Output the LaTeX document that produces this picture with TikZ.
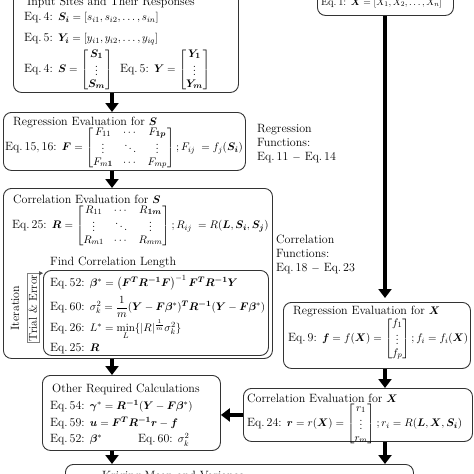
\documentclass[tikz,border=0pt]{standalone}
\usepackage{amsmath,bm}
\usetikzlibrary{arrows.meta,positioning,calc}
\DeclareMathSizes{12}{11}{8}{6}
\renewcommand{\arraystretch}{0.82}

\begin{document}
\begin{tikzpicture}[x=1pt,y=-1pt,>={Triangle[width=13pt,length=9pt]},font=\fontsize{12}{14}\selectfont]
  \tikzstyle{box}=[draw=black!80,line width=0.9pt,rounded corners=8pt,anchor=north west,inner sep=0pt]
  \tikzstyle{txt}=[anchor=west,inner sep=0pt,align=left]
  \tikzstyle{flow}=[->,line width=3.5pt]

  \useasboundingbox (0,0) rectangle (474,474);
  \clip (0,0) rectangle (474,474);

  % left column boxes
  \node[box,minimum width=225pt,minimum height=102pt] (input) at (13,-10) {};
  \node[box,minimum width=242pt,minimum height=58pt]  (regS)  at (3,112) {};
  \node[box,minimum width=269pt,minimum height=170pt] (corS)  at (3,188) {};
  \node[box,minimum width=225pt,minimum height=85pt]  (inner) at (43,270) {};
  \node[box,minimum width=178pt,minimum height=75pt]  (other) at (42,375) {};
  \node[box,minimum width=348pt,minimum height=30pt]  (krig)  at (65,464) {};
  % right column boxes
  \node[box,minimum width=136pt,minimum height=25pt]  (eqX)   at (317,-10) {};
  \node[box,minimum width=187pt,minimum height=66pt]  (regX)  at (283,302) {};
  \node[box,minimum width=229pt,minimum height=53pt]  (corX)  at (243,388) {};

  % input sites
  \node[txt] (inTitle) at (27,2) {Input Sites and Their Responses};
  \node[txt] (eqSi) at (24,18) {Eq.\,4: $\bm{S_i}=[s_{i1},s_{i2},\dots,s_{in}]$};
  \node[txt] (eqYi) at (24,39) {Eq.\,5: $\bm{Y_i}=[y_{i1},y_{i2},\dots,y_{iq}]$};
  \node[txt] (eqS) at (24,70) {Eq.\,4: $\bm{S}=\begin{bmatrix}\bm{S_1}\\ \vdots\\ \bm{S_m}\end{bmatrix}$};
  \node[txt] (eqY) at (120,70) {Eq.\,5: $\bm{Y}=\begin{bmatrix}\bm{Y_1}\\ \vdots\\ \bm{Y_m}\end{bmatrix}$};

  % regression for S
  \node[txt] (regSTitle) at (13,123) {Regression Evaluation for $\bm{S}$};
  \node[txt] (eqF) at (5,148) {Eq.\,15,\,16: $\bm{F}=\begin{bmatrix}F_{11}&\cdots&F_{\bm{1p}}\\ \vdots&\ddots&\vdots\\ F_{m\bm{1}}&\cdots&F_{mp}\end{bmatrix};F_{ij}\;=f_j(\bm{S_i})$};
  \node[txt] (regFun) at (257,144) {Regression\\Functions:\\Eq.\,11 $-$ Eq.\,14};

  % correlation for S
  \node[txt] (corSTitle) at (13,199) {Correlation Evaluation for $\bm{S}$};
  \node[txt] (eqR) at (12,226) {Eq.\,25: $\bm{R}=\begin{bmatrix}R_{11}&\cdots&R_{\bm{1m}}\\ \vdots&\ddots&\vdots\\ R_{m1}&\cdots&R_{mm}\end{bmatrix};R_{ij}\;=R(\bm{L},\bm{S_i},\bm{S_j})$};
  \node[txt] (corFun) at (276,254) {Correlation\\Functions:\\ Eq.\,18 $-$ Eq.\,23};
  \node[txt] (findL) at (50,263) {Find Correlation Length};
  \node[txt] (eqBeta) at (50,283) {Eq.\,52: $\bm{\beta}^*=\left(\bm{F^T}\bm{R^{-1}}\bm{F}\right)^{-1}\bm{F^T}\bm{R^{-1}}\bm{Y}$};
  \node[txt] (eqSig) at (50,307) {Eq.\,60: $\sigma_k^2=\dfrac{1}{m}(\bm{Y}-\bm{F}\bm{\beta}^*)^{\bm{T}}\bm{R^{-1}}(\bm{Y}-\bm{F}\bm{\beta}^*)$};
  \node[txt] (eqL) at (50,330) {Eq.\,26: $L^*=\min\limits_{L}\{|R|^{\frac{1}{m}}\sigma_k^2\}$};
  \node[txt] (eqRR) at (50,349) {Eq.\,25: $\bm{R}$};
  \node[rotate=90,inner sep=0pt] (iter) at (15,308) {Iteration};
  \node[rotate=90,inner sep=1.5pt,draw=black!50,line width=0.4pt,font=\fontsize{11.5}{13}\selectfont] (trial) at (33,308) {Trial \& Error};
  \draw[->,>={Triangle[width=4pt,length=4pt]},black!70,line width=0.5pt] (trial.south east) -- (trial.south east -| inner.west);

  % other calculations
  \node[txt] (otherTitle) at (52,389) {Other Required Calculations};
  \node[txt] (eqGam) at (50,406) {Eq.\,54: $\bm{\gamma}^*=\bm{R^{-1}}(\bm{Y}-\bm{F}\bm{\beta}^*)$};
  \node[txt] (eqU) at (50,423) {Eq.\,59: $\bm{u}=\bm{F^T}\bm{R^{-1}}\bm{r}-\bm{f}$};
  \node[txt] (eqB2) at (50,440) {Eq.\,52: $\bm{\beta}^*$};
  \node[txt] (eqS2) at (138,440) {Eq.\,60: $\sigma_k^2$};
  \node[txt] (krigTitle) at (102,477) {Kriging Mean and Variance};

  % right column
  \node[txt,scale=0.88] (eqXv) at (321,3) {Eq.\,1: $\bm{X}=[X_1,X_2,\ldots,X_n]$};
  \node[txt] (regXTitle) at (293,312) {Regression Evaluation for $\bm{X}$};
  \node[txt] (eqf) at (288,339) {Eq.\,9: $\bm{f}=f(\bm{X})=\begin{bmatrix}f_1\\ \vdots\\ f_p\end{bmatrix};f_i=f_i(\bm{X})$};
  \node[txt] (corXTitle) at (247,398) {Correlation Evaluation for $\bm{X}$};
  \node[txt] (eqr) at (247,424) {Eq.\,24: $\bm{r}=r(\bm{X})=\begin{bmatrix}r_1\\ \vdots\\ r_m\end{bmatrix};r_i=R(\bm{L},\bm{X},\bm{S_i})$};

  % connectors
  \coordinate (colL) at (112,0);
  \coordinate (colR) at (385,0);
  \draw[flow] (input.south -| colL) -- (regS.north -| colL);
  \draw[flow] (regS.south -| colL) -- (corS.north -| colL);
  \draw[flow] (corS.south -| colL) -- (other.north -| colL);
  \draw[flow] (other.south -| colL) -- (krig.north -| colL);
  \draw[flow,shorten >=4pt] (eqX.south -| colR) -- (regX.north -| colR);
  \draw[flow] (regX.south -| colR) -- (corX.north -| colR);
  \draw[flow] (corX.south -| colR) -- (krig.north -| colR);
  \draw[flow] (corX.west) -- (corX.west -| other.east);
\end{tikzpicture}
\end{document}
